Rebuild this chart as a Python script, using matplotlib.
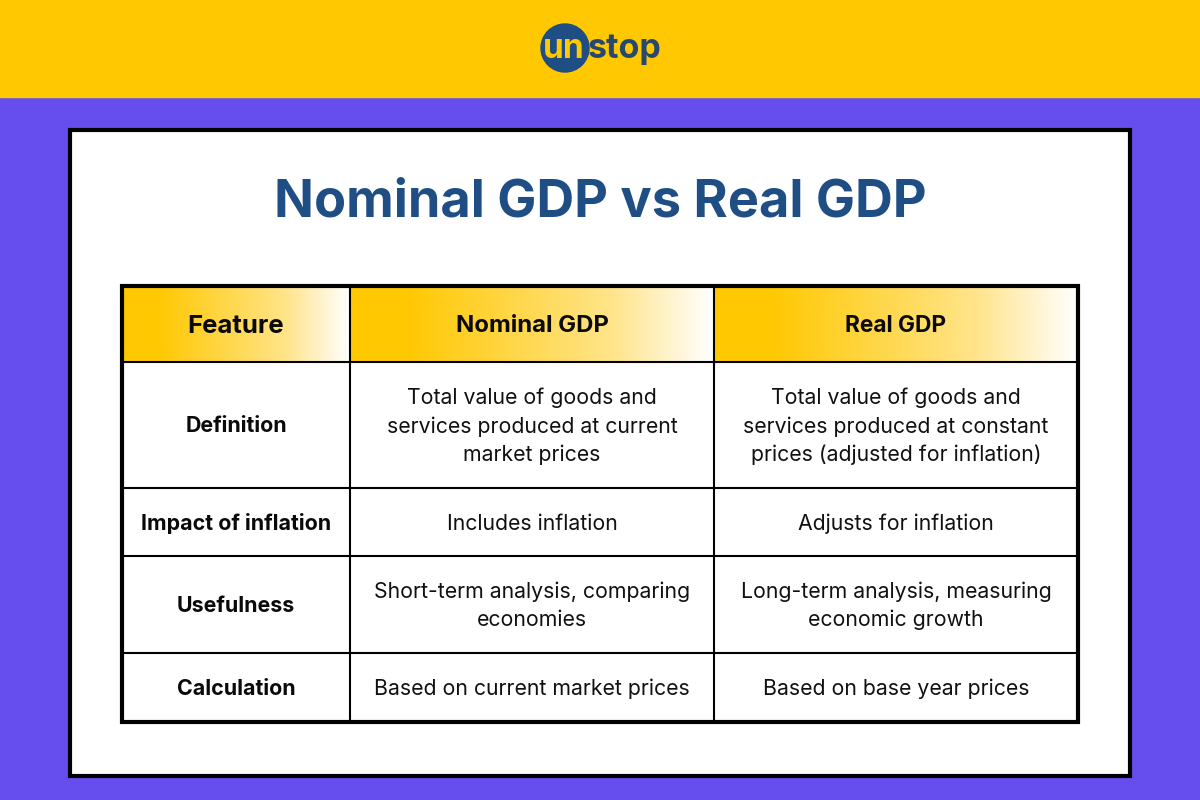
import matplotlib
matplotlib.use("Agg")
import matplotlib.pyplot as plt
from matplotlib.colors import LinearSegmentedColormap
from matplotlib.patches import Rectangle, Circle
import numpy as np

plt.rcParams['font.family'] = ['Inter', 'DejaVu Sans']

title = 'Nominal GDP vs Real GDP'
headers = ['Feature', 'Nominal GDP', 'Real GDP']
header_sizes = [18.5, 17.2, 16.3]
features = ['Definition', 'Impact of inflation', 'Usefulness', 'Calculation']
nominal = ['Total value of goods and\nservices produced at current\nmarket prices',
           'Includes inflation',
           'Short-term analysis, comparing\neconomies',
           'Based on current market prices']
real = ['Total value of goods and\nservices produced at constant\nprices (adjusted for inflation)',
        'Adjusts for inflation',
        'Long-term analysis, measuring\neconomic growth',
        'Based on base year prices']

col_x = [122, 350, 714, 1078]
row_y = [286, 362, 488, 556, 653, 722]

YELLOW = '#ffc800'
PURPLE = '#664ded'
NAVY = '#1f4e85'
DARK = '#27496d'

fig = plt.figure(figsize=(12, 8), dpi=100)
ax = fig.add_axes([0, 0, 1, 1])
ax.set_xlim(0, 1200)
ax.set_ylim(800, 0)
ax.axis('off')

# background and panel
ax.add_patch(Rectangle((0, 0), 1200, 800, color=PURPLE, zorder=0))
ax.add_patch(Rectangle((0, 0), 1200, 97, color=YELLOW, zorder=1))
ax.add_patch(Rectangle((70, 130), 1060, 646, facecolor='white', edgecolor='black', linewidth=3, zorder=1))

# logo
ax.add_patch(Circle((565, 48), 24, color=NAVY, zorder=2))
ax.text(564, 49, 'un', color=YELLOW, fontsize=24, fontweight='bold', ha='center', va='center', zorder=3)
ax.text(588, 49, 'stop', color=DARK, fontsize=24.5, fontweight='bold', ha='left', va='center', zorder=3)

ax.text(600, 203, title, color=NAVY, fontsize=37.65, fontweight='bold', ha='center', va='center', zorder=3)

# header gradient cells
cmap = LinearSegmentedColormap.from_list('hdr', [(0, YELLOW), (0.15, YELLOW), (0.72, '#ffe48a'), (1, '#ffffff')])
grad = np.linspace(0, 1, 256).reshape(1, -1)
for i in range(3):
    ax.imshow(grad, cmap=cmap, extent=(col_x[i], col_x[i + 1], row_y[1], row_y[0]), aspect='auto', zorder=2)
ax.set_xlim(0, 1200)
ax.set_ylim(800, 0)

# grid lines
for x in col_x[1:-1]:
    ax.plot([x, x], [row_y[0], row_y[-1]], color='black', lw=1.5, zorder=4)
for y in row_y[1:-1]:
    ax.plot([col_x[0], col_x[-1]], [y, y], color='black', lw=1.5, zorder=4)
ax.add_patch(Rectangle((col_x[0], row_y[0]), col_x[-1] - col_x[0], row_y[-1] - row_y[0],
                       fill=False, edgecolor='black', linewidth=3, zorder=5))

# text
for i, h in enumerate(headers):
    ax.text((col_x[i] + col_x[i + 1]) / 2, (row_y[0] + row_y[1]) / 2 + 2.5, h, fontsize=header_sizes[i],
            fontweight='bold', color='#0a0a0a', ha='center', va='center', zorder=6)
for r in range(4):
    cy = (row_y[r + 1] + row_y[r + 2]) / 2 + 1.5
    ax.text((col_x[0] + col_x[1]) / 2, cy, features[r], fontsize=15.4, fontweight='bold', color='#0a0a0a',
            ha='center', va='center', zorder=6)
    ax.text((col_x[1] + col_x[2]) / 2, cy, nominal[r], fontsize=15.3, color='#111111', ha='center', va='center',
            linespacing=1.47, zorder=6)
    ax.text((col_x[2] + col_x[3]) / 2, cy, real[r], fontsize=15.3, color='#111111', ha='center', va='center',
            linespacing=1.47, zorder=6)

fig.savefig('out.png', dpi=100)
